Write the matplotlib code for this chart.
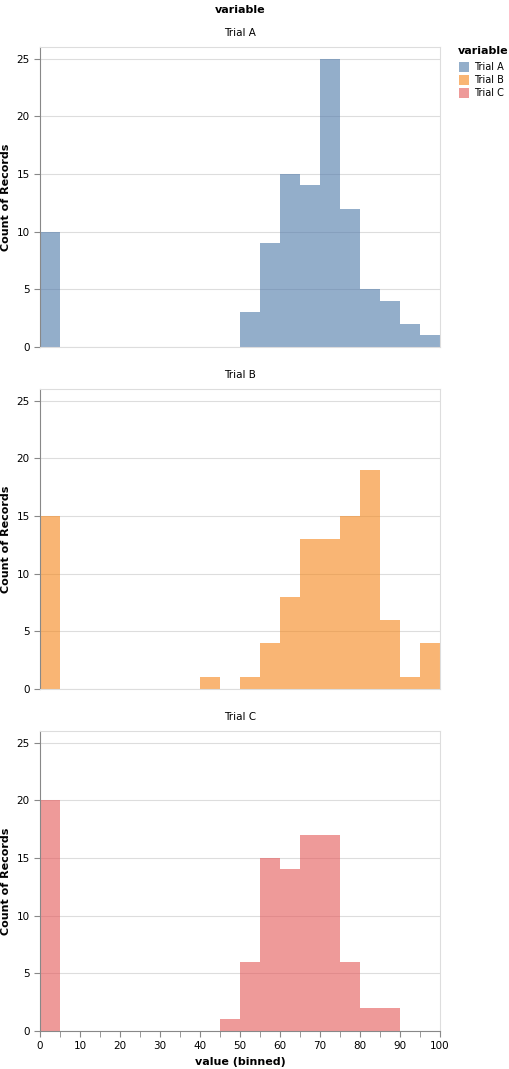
import matplotlib
matplotlib.use("Agg")
import matplotlib.pyplot as plt
import numpy as np

bins = np.arange(0, 100, 5)
trials = ["Trial A", "Trial B", "Trial C"]
colors = ["#4c78a8", "#f58518", "#e45756"]
counts_a = [10,0,0,0,0,0,0,0,0,0,3,9,15,14,25,12,5,4,2,1]
counts_b = [15,0,0,0,0,0,0,0,1,0,1,4,8,13,13,15,19,6,1,4]
counts_c = [20,0,0,0,0,0,0,0,0,1,6,15,14,17,17,6,2,2,0,0]
counts = [counts_a, counts_b, counts_c]

W, H = 510, 1069
fig = plt.figure(figsize=(W/100, H/100), dpi=100)
tops = [47, 389, 731]
for i, (t, c, col) in enumerate(zip(trials, counts, colors)):
    ax = fig.add_axes([40/W, 1-(tops[i]+300)/H, 400/W, 300/H])
    ax.bar(bins, c, width=5, align="edge", color=col, alpha=0.6, linewidth=0)
    ax.set_xlim(0, 100)
    ax.set_ylim(0, 26)
    ax.set_yticks(range(0, 26, 5))
    ax.grid(axis="y", color="#dddddd", linewidth=0.8)
    ax.set_axisbelow(True)
    for s in ax.spines.values():
        s.set_color("#dddddd")
    ax.spines["left"].set_color("#888888")
    ax.tick_params(labelsize=7.5, color="#888888", length=4)
    ax.set_ylabel("Count of Records", fontsize=8, fontweight="bold")
    ax.set_title(t, fontsize=7.5, pad=8)
    if i < 2:
        ax.set_xticks([])
    else:
        ax.spines["bottom"].set_color("#888888")
        ax.set_xticks(range(0, 101, 10))
        ax.set_xticks(range(0, 101, 5), minor=True)
        ax.tick_params(axis="x", which="minor", length=4, color="#888888")
        ax.set_xlabel("value (binned)", fontsize=8, fontweight="bold")

fig.text(240/W, 1-10/H, "variable", ha="center", va="center", fontsize=8, fontweight="bold")
fig.text(458/W, 1-51/H, "variable", ha="left", va="center", fontsize=8, fontweight="bold")
for j, (t, col) in enumerate(zip(trials, colors)):
    y = 67 + j*13
    fig.patches.append(plt.Rectangle((459/W, 1-(y+5)/H), 10/W, 10/H, transform=fig.transFigure,
                                     color=col, alpha=0.6, linewidth=0))
    fig.text(474/W, 1-y/H, t, ha="left", va="center", fontsize=7)

fig.savefig("out.png", dpi=100)
